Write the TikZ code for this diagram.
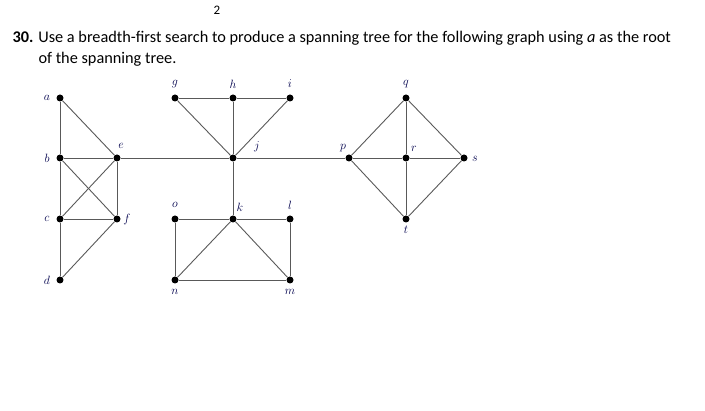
\documentclass[tikz,border=0pt]{standalone}
\usepackage{fontspec}
\setmainfont{Carlito}
\begin{document}
\begin{tikzpicture}[x=1pt,y=-1pt,
  vtx/.style={circle,fill=black,inner sep=0pt,minimum size=7pt},
  lab/.style={font=\fontsize{13}{13}\selectfont,text=black!70!blue,inner sep=0pt},
  edge/.style={draw=black!65,line width=0.9pt}]
\useasboundingbox (0,0) rectangle (705,411);
\node at (217,10) {\fontsize{13}{15}\selectfont 2};
\node[anchor=west] at (9,38) {\fontsize{16.3}{18}\selectfont\textbf{30.} Use a breadth-first search to produce a spanning tree for the following graph using \textit{a} as the root};
\node[anchor=west] at (35,59) {\fontsize{16.3}{18}\selectfont of the spanning tree.};
\foreach \n/\x/\y in {a/60/98,b/60/158,e/117/158,c/60/219,f/117/219,d/60/280,g/175/98,h/233/98,i/290/98,j/233/158,o/175/219,k/233/219,l/290/219,n/175/280,m/290/280,p/349/158,q/406/98,r/406/158,s/464/158,t/406/219}
  \node[vtx] (\n) at (\x,\y) {};
\foreach \u/\v in {a/b,a/e,b/e,b/c,b/f,c/e,c/f,e/f,c/d,d/f,e/j,g/h,h/i,g/j,h/j,i/j,j/k,o/k,k/l,o/n,k/n,k/m,l/m,n/m,j/p,p/q,p/r,r/s,p/t,q/r,r/t,q/s,s/t}
  \draw[edge] (\u) -- (\v);
\foreach \n/\dx/\dy/\t in {a/-13/0/a,b/-13/0/b,c/-13/0/c,d/-13/0/d,e/4/-12/e,f/10/1/f,g/0/-14/g,h/0/-14/h,i/0/-14/i,j/24/-11/j,o/0/-14/o,k/7/-12/k,l/0/-14/l,n/0/12/n,m/0/12/m,p/-6/-10/p,r/8/-9/r,q/0/-14/q,s/11/1/s,t/0/11/t}
  \node[lab] at ([shift={(\dx,\dy)}]\n) {$\t$};
\end{tikzpicture}
\end{document}
